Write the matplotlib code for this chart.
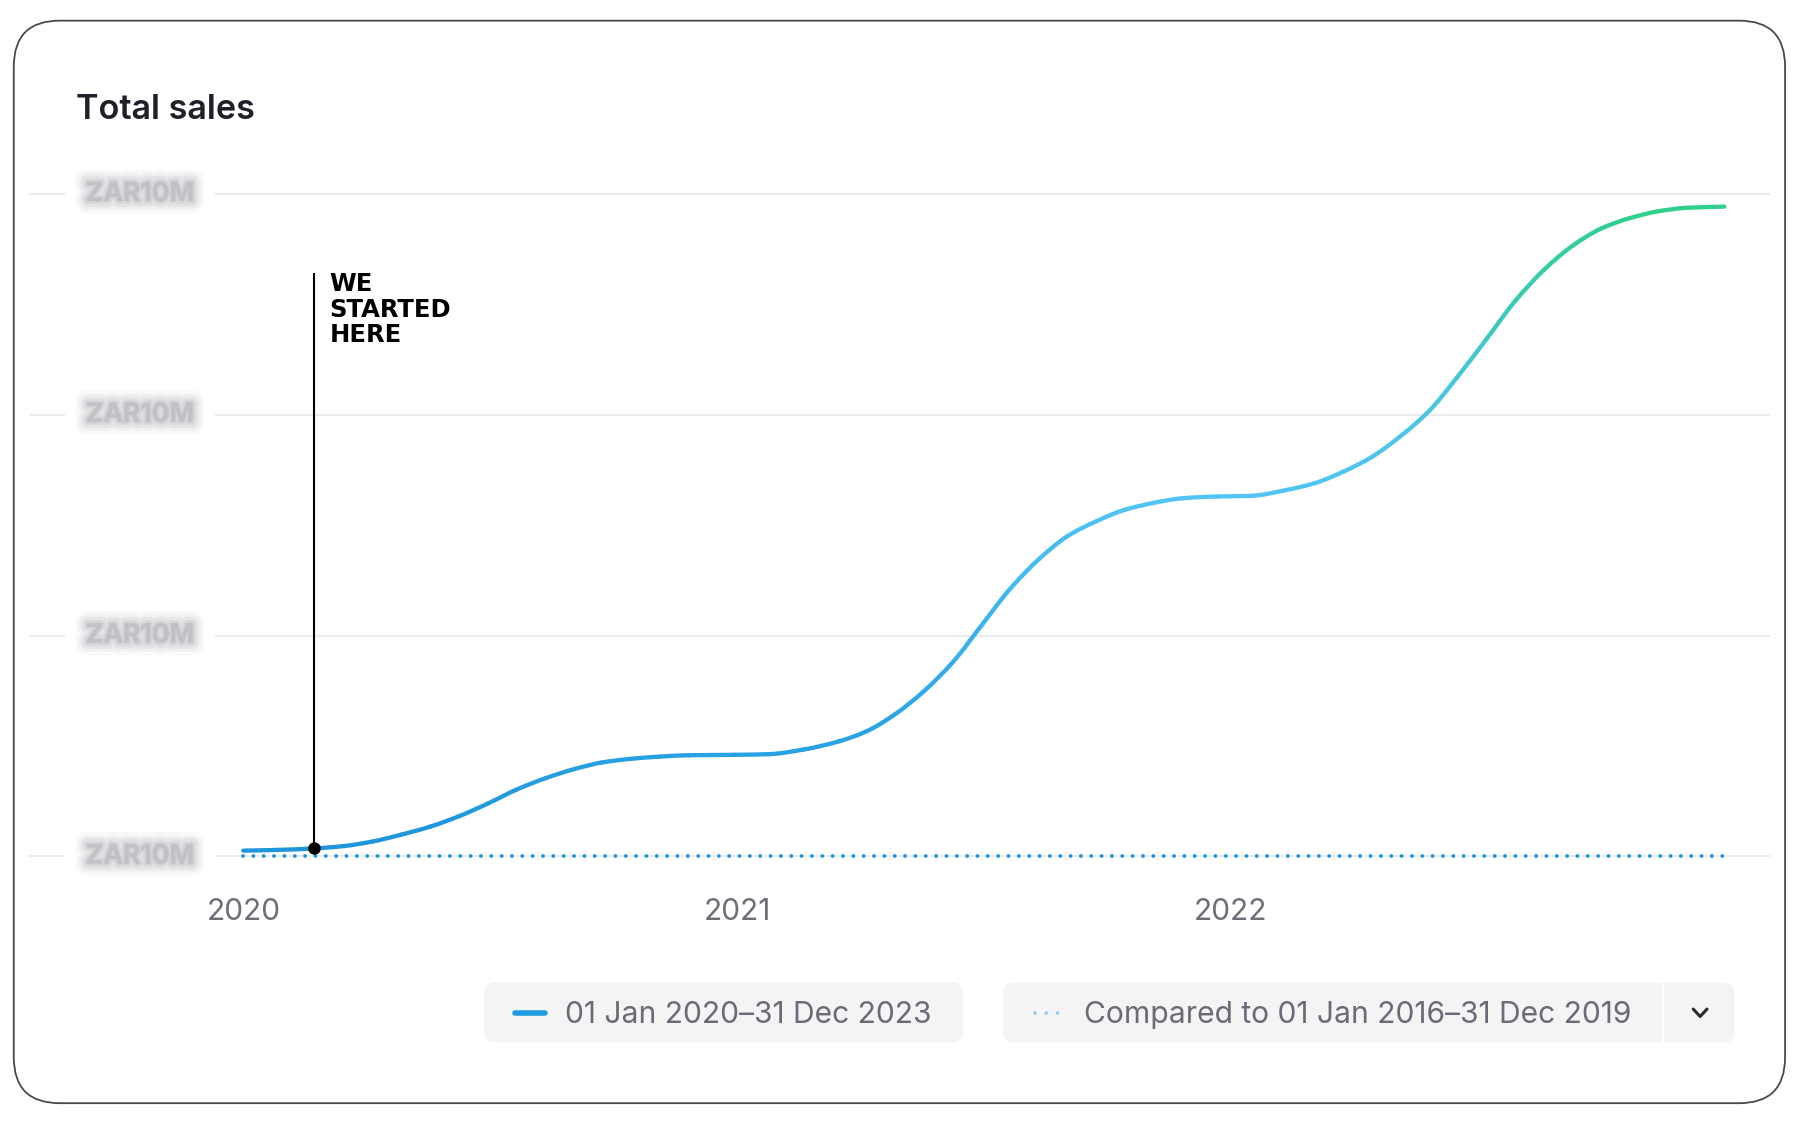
import matplotlib
matplotlib.use("Agg")
import matplotlib.pyplot as plt
import numpy as np
from matplotlib.patches import FancyBboxPatch, PathPatch
from matplotlib.path import Path
from matplotlib.lines import Line2D
from matplotlib.colors import LinearSegmentedColormap
import matplotlib.transforms as mtransforms
import matplotlib.patheffects as pe

# ---------------- data ----------------
years_offset = [0.000, 0.065, 0.144, 0.205, 0.263, 0.321, 0.379, 0.437, 0.495, 0.553,
                0.612, 0.670, 0.728, 0.786, 0.844, 0.902, 0.995, 1.065, 1.135, 1.205,
                1.263, 1.321, 1.379, 1.437, 1.495, 1.553, 1.612, 1.670, 1.728, 1.786,
                1.844, 1.902, 1.972, 2.042, 2.112, 2.170, 2.228, 2.286, 2.344, 2.402,
                2.460, 2.519, 2.577, 2.635, 2.693, 2.751, 2.809, 2.867, 2.926, 3.000]
sales = [0.026, 0.029, 0.036, 0.047, 0.068, 0.099, 0.135, 0.182, 0.239, 0.302,
         0.354, 0.395, 0.426, 0.442, 0.452, 0.458, 0.460, 0.463, 0.484, 0.520,
         0.567, 0.645, 0.749, 0.879, 1.045, 1.211, 1.347, 1.451, 1.518, 1.570,
         1.601, 1.622, 1.630, 1.633, 1.659, 1.690, 1.742, 1.809, 1.903, 2.017,
         2.173, 2.345, 2.517, 2.657, 2.766, 2.844, 2.891, 2.922, 2.938, 2.943]
compare_x = [0.0, 3.0]
compare_sales = [0.0, 0.0]
x_ticks = [0, 1, 2]
x_tick_labels = ["2020", "2021", "2022"]
y_ticks = [0, 1, 2, 3]
y_tick_labels = ["ZAR10M", "ZAR10M", "ZAR10M", "ZAR10M"]
start_x = 0.144
start_y = 0.036
annotation = "WE\nSTARTED\nHERE"
title = "Total sales"
legend_labels = ["01 Jan 2020\u201331 Dec 2023", "Compared to 01 Jan 2016\u201331 Dec 2019"]

# ---------------- figure ----------------
W, H = 1800, 1125
fig = plt.figure(figsize=(W / 100, H / 100), dpi=100)
fig.patch.set_facecolor("white")
s = W / 1568.0
# transform: reference-pixel coords (origin top-left) -> display
T = mtransforms.Affine2D().scale(s / 100, -s / 100).translate(0, H / 100) + fig.dpi_scale_trans

# card
card = FancyBboxPatch((12, 18), 1543, 943, boxstyle="round,pad=0,rounding_size=40",
                      transform=T, facecolor="white", edgecolor="#4a4a4a", linewidth=1.3,
                      zorder=-10)
fig.patches.append(card)

fig.text(66 / 1568, 1 - 96 / 980, title, fontsize=24.6, fontweight="semibold",
         family=["Inter", "DejaVu Sans"], color="#1f2028", va="center", ha="left")

# axes
px0, px1 = 25, 1542
x_at = lambda px: (px - 212) / 430.0
y_at = lambda py: (746 - py) / 192.33
top_py, bot_py = 130, 770
ax = fig.add_axes([px0 / 1568, 1 - bot_py / 980, (px1 - px0) / 1568, (bot_py - top_py) / 980])
ax.set_zorder(2)
ax.set_xlim(x_at(px0), x_at(px1))
ax.set_ylim(y_at(bot_py), y_at(top_py))
ax.patch.set_alpha(0)
for sp in ax.spines.values():
    sp.set_visible(False)
ax.set_yticks([])
ax.set_xticks(x_ticks)
ax.set_xticklabels(x_tick_labels, fontsize=21.5, color="#6e6e78", family=["Inter", "DejaVu Sans"])
ax.tick_params(axis="x", length=0, pad=10)

for yv in y_ticks:
    ax.axhline(yv, color="#ececee", lw=1.5, zorder=1)

# blurred y labels
blur = [pe.withStroke(linewidth=18, foreground="#ededef", alpha=0.3),
        pe.withStroke(linewidth=13, foreground="#e0e0e3", alpha=0.35),
        pe.withStroke(linewidth=9, foreground="#d6d6da", alpha=0.4),
        pe.withStroke(linewidth=5, foreground="#cdcdd1", alpha=0.4),
        pe.withStroke(linewidth=2.5, foreground="#c6c6ca", alpha=0.35)]
for yv, lab in zip(y_ticks, y_tick_labels):
    ax.text(x_at(122), yv, lab, ha="center", va="center", fontsize=19, fontweight="bold",
            family=["Inter", "DejaVu Sans"], color="#c0c0c5", alpha=0.3, zorder=3,
            bbox=dict(facecolor="white", edgecolor="none", pad=15),
            path_effects=blur + [pe.Normal()])

# comparison dotted line
ax.plot(compare_x, compare_sales, color="#1f97dc", lw=2.8, linestyle=(0, (0.01, 2.65)),
        dash_capstyle="round", zorder=4)

# gradient main line: smooth monotone cubic through data points, coloured by value
cmap = LinearSegmentedColormap.from_list("g", [(0.0, "#1e94da"), (0.2, "#2aa5e4"),
                                              (0.55, "#52c4f5"), (0.75, "#44c8d6"),
                                              (1.0, "#2ed08a")])
xs = np.array(years_offset)
ys = np.array(sales)
h = np.diff(xs)
d = np.diff(ys) / h
m = np.zeros_like(ys)
m[0], m[-1] = d[0], d[-1]
for i in range(1, len(ys) - 1):
    if d[i - 1] * d[i] <= 0:
        m[i] = 0
    else:
        w1, w2 = 2 * h[i] + h[i - 1], h[i] + 2 * h[i - 1]
        m[i] = (w1 + w2) / (w1 / d[i - 1] + w2 / d[i])
for i in range(len(xs) - 1):
    verts = [(xs[i], ys[i]),
             (xs[i] + h[i] / 3, ys[i] + m[i] * h[i] / 3),
             (xs[i + 1] - h[i] / 3, ys[i + 1] - m[i + 1] * h[i] / 3),
             (xs[i + 1], ys[i + 1])]
    col = cmap((ys[i] + ys[i + 1]) / 2 / max(sales))
    ax.add_patch(PathPatch(Path(verts, [Path.MOVETO, Path.CURVE4, Path.CURVE4, Path.CURVE4]),
                           fill=False, edgecolor=col, lw=3.1, capstyle="round",
                           joinstyle="round", zorder=5))

# annotation
ax.plot([start_x, start_x], [start_y, y_at(239)], color="black", lw=1.5, zorder=6)
ax.plot([start_x], [start_y], "o", color="black", ms=8, zorder=7)
ax.text(x_at(287), y_at(237), annotation, ha="left", va="top", fontsize=17.5,
        fontweight="bold", family="DejaVu Sans", color="black", linespacing=1.08, zorder=7)

# legend pills
for (x0, x1) in [(422, 839), (874, 1511)]:
    p = FancyBboxPatch((x0, 856), x1 - x0, 52, boxstyle="round,pad=0,rounding_size=9",
                       transform=T, facecolor="#f4f4f5", edgecolor="none", zorder=1)
    fig.patches.append(p)
fig.lines.append(Line2D([449, 475], [882, 882], transform=T, color="#1e9be0", lw=4,
                        solid_capstyle="round"))
fig.lines.append(Line2D([902, 928], [882, 882], transform=T, color="#8fcdf0", lw=2.6,
                        linestyle=(0, (0.01, 3.1)), dash_capstyle="round"))
fig.lines.append(Line2D([1449, 1449], [856, 908], transform=T, color="white", lw=1.5))
fig.lines.append(Line2D([1475, 1481, 1487], [879, 885.5, 879], transform=T, color="#2a2a30",
                        lw=2.2, solid_capstyle="round", solid_joinstyle="round"))
fig.text(492 / 1568, 1 - 884 / 980, legend_labels[0], fontsize=21.6, color="#6b6b78",
         family=["Inter", "DejaVu Sans"], va="center", ha="left")
fig.text(944 / 1568, 1 - 884 / 980, legend_labels[1], fontsize=21.6, color="#6b6b78",
         family=["Inter", "DejaVu Sans"], va="center", ha="left")

fig.savefig("out.png", dpi=100, facecolor="white")
